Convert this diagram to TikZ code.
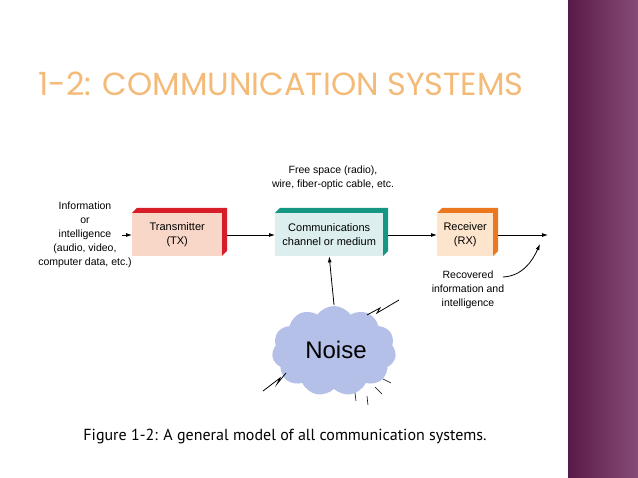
\documentclass[tikz,border=0pt]{standalone}
\usepackage{fontspec}
\setmainfont{Liberation Sans}
\newfontfamily\capfont{PT Sans}
\newfontfamily\titfont{Poppins}
\usetikzlibrary{shapes.symbols,arrows.meta}
\definecolor{txred}{RGB}{215,30,40}
\definecolor{txfill}{RGB}{248,215,200}
\definecolor{chgreen}{RGB}{20,150,130}
\definecolor{chfill}{RGB}{220,238,238}
\definecolor{rxor}{RGB}{235,120,30}
\definecolor{rxfill}{RGB}{252,228,205}
\definecolor{cloudc}{RGB}{180,192,232}
\definecolor{purp}{RGB}{105,30,85}
\definecolor{titc}{RGB}{244,186,120}
\tikzset{
 lbl/.style={font=\fontsize{10.5}{14}\selectfont,align=center,inner sep=0pt},
 conn/.style={thick,-{Latex[length=6pt,width=4pt]}},
 face/.style={inner sep=0pt,font=\fontsize{11}{14}\selectfont,align=center},
 bolt/.style={thick},
}
\newcommand{\blockbox}[6]{% name, x1, x2, fill, edge, text
 \fill[#5] (#2,213) -- (#2+5,208) -- (#3+5,208) -- (#3+5,251) -- (#3,256) -- (#3,213) -- cycle;
 \node[face,fill=#4,minimum width=#3pt-#2pt,minimum height=43pt,anchor=north west] (#1) at (#2,213) {#6};
}
\begin{document}
\begin{tikzpicture}[x=1pt,y=-1pt]
\useasboundingbox (0,0) rectangle (638,478);
\fill[white] (0,0) rectangle (638,478);
\shade[left color=purp!85!black,right color=purp!80] (568,0) rectangle (638,478);
\node[text=titc,font=\titfont\fontsize{32}{34}\selectfont,anchor=west,inner sep=0pt] (title) at (38,84) {1-2: COMMUNICATION SYSTEMS};
\blockbox{tx}{132}{222}{txfill}{txred}{Transmitter\\(TX)}
\blockbox{ch}{275}{383}{chfill}{chgreen}{Communications\\channel or medium}
\blockbox{rx}{437}{493}{rxfill}{rxor}{Receiver\\(RX)}
\node[lbl] (free) at (333,178) {Free space (radio),\\wire, fiber-optic cable, etc.};
\node[lbl] (info) at (85,235) {Information\\or\\intelligence\\(audio, video,\\computer data, etc.)};
\node[lbl] (rec) at (468,290) {Recovered\\information and\\intelligence};
\coordinate (inl) at (122,235);
\coordinate (outr) at (548,235);
\coordinate (cs) at (503,277);
\coordinate (ce) at (540,244);
\draw[conn] (inl) -- (tx.west|-inl);
\draw[conn] (227,235) -- (ch.west|-inl);
\draw[conn] (388,235) -- (rx.west|-inl);
\draw[conn] (498,235) -- (outr);
\node[cloud,cloud puffs=11,cloud puff arc=110,aspect=1.45,fill=cloudc,minimum width=124pt,minimum height=90pt,inner sep=0pt] (noise) at (334,351) {};
\node[font=\fontsize{24}{26}\selectfont] at (336,350) {Noise};
\draw[conn] (noise.north) ++(0,-1) -- (ch.south);
\draw[thick,-{Latex[length=6pt,width=4pt]}] (cs) .. controls (522,276) and (532,262) .. (ce);
\draw[bolt] (367,315) -- (380,308) -- (377,313) -- (399,300);
\draw[bolt] (263,391) -- (280,378) -- (277,384) -- (286,373);
\draw[semithick] (355,393) -- (356,401) (367,396) -- (368,405) (375,387) -- (382,394) (383,379) -- (391,383);
\node[font=\capfont\fontsize{16}{18}\selectfont] (cap) at (285,437) {Figure 1-2: A general model of all communication systems.};
\end{tikzpicture}
\end{document}
